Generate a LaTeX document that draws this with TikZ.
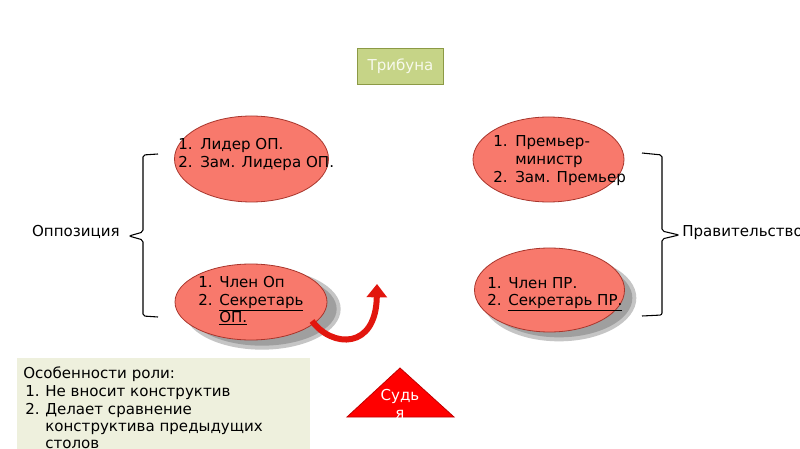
\documentclass[tikz,border=0pt]{standalone}
\usepackage{fontspec}
\setmainfont{DejaVu Sans}
\usetikzlibrary{shapes.geometric,arrows.meta}
\definecolor{ellfill}{HTML}{F8796C}
\definecolor{ellline}{HTML}{A8352C}
\definecolor{tribfill}{HTML}{C6D487}
\definecolor{tribline}{HTML}{8C9A45}
\definecolor{tribtext}{HTML}{F7F9EC}
\definecolor{notefill}{HTML}{EEF0DD}
\definecolor{judgered}{HTML}{FF0000}
\definecolor{judgeline}{HTML}{C00000}
\definecolor{arrowred}{HTML}{E2160E}
\begin{document}
\begin{tikzpicture}[x=0.75pt,y=-0.75pt,
  every node/.style={font=\fontsize{11.3pt}{13.6pt}\selectfont, inner sep=0pt},
  oval/.style={ellipse, draw=ellline, fill=ellfill, line width=0.6pt},
  shadowblob/.style={ellipse, fill=black!65, opacity=0.35},
  lbl/.style={anchor=base west, text=black},
  bracketline/.style={draw=black, line width=0.8pt, rounded corners=1.5pt}]
\useasboundingbox[fill=white] (0,0) rectangle (800,449);

% Tribune
\node[draw=tribline, fill=tribfill, line width=0.8pt, minimum width=65pt, minimum height=27.5pt, text=tribtext] (trib) at (400.5,66.5) {Трибуна};

% shadows
\node[shadowblob, minimum width=118pt, minimum height=61pt] (s3a) at (262,309) {};
\node[shadowblob, minimum width=112pt, minimum height=55pt] (s3b) at (262,309) {};
\node[shadowblob, minimum width=116pt, minimum height=65pt] (s4a) at (559,298) {};
\node[shadowblob, minimum width=110pt, minimum height=59pt] (s4b) at (559,298) {};

% ellipses
\node[oval, minimum width=115.5pt, minimum height=64.5pt] (e1) at (251.5,159) {};
\node[oval, minimum width=113.25pt, minimum height=63.75pt] (e2) at (548.5,159.5) {};
\node[oval, minimum width=114pt, minimum height=57pt] (e3) at (251,302) {};
\node[oval, minimum width=112.5pt, minimum height=63pt] (e4) at (549.5,290) {};

% ellipse 1 text
\node[lbl] (e1n1) at (178,150) {1.};
\node[lbl] (e1t1) at (200,150) {Лидер ОП.};
\node[lbl] (e1n2) at (178,168) {2.};
\node[lbl] (e1t2) at (200,168) {Зам. Лидера ОП.};

% ellipse 2 text
\node[lbl] (e2n1) at (493,147) {1.};
\node[lbl] (e2t1) at (515,147) {Премьер-};
\node[lbl] (e2t1b) at (515,165) {министр};
\node[lbl] (e2n2) at (493,183) {2.};
\node[lbl] (e2t2) at (515,183) {Зам. Премьер};

% ellipse 3 text
\node[lbl] (e3n1) at (198,287) {1.};
\node[lbl] (e3t1) at (219,287) {Член Оп};
\node[lbl] (e3n2) at (198,305) {2.};
\node[lbl] (e3t2) at (219,305) {\underline{Секретарь}};
\node[lbl] (e3t2b) at (219,322) {\underline{ОП.}};

% ellipse 4 text
\node[lbl] (e4n1) at (487,288) {1.};
\node[lbl] (e4t1) at (508,288) {Член ПР.};
\node[lbl] (e4n2) at (487,305) {2.};
\node[lbl] (e4t2) at (508,305) {\underline{Секретарь ПР.}};

% side labels
\node[anchor=east] (opp) at (120,232) {Оппозиция};
\node[anchor=west] (gov) at (682,233) {Правительство};

% brackets
\draw[bracketline] (158,154) -- (143,155) -- (143,232) -- (129,236) -- (143,240) -- (143,316) -- (158,317);
\draw[bracketline] (642,153) -- (662,155) -- (662,231) -- (679,235) -- (662,239) -- (662,315) -- (642,316);

% curved arrow
\coordinate (arrs) at (312,321);
\coordinate (arre) at (377,284);
\draw[arrowred, line width=4.5pt, -{Triangle[width=15pt,length=10pt]}] (arrs) .. controls (332,348) and (376,350) .. (arre);

% note box
\node[fill=notefill, anchor=north west, minimum width=219.75pt, minimum height=75pt] (note) at (17,358) {};
\node[lbl] (nt0) at (23,378) {Особенности роли:};
\node[lbl] (nn1) at (25,396) {1.};
\node[lbl] (nt1) at (45,396) {Не вносит конструктив};
\node[lbl] (nn2) at (25,414) {2.};
\node[lbl] (nt2) at (45,414) {Делает сравнение};
\node[lbl] (nt3) at (45,431.5) {конструктива предыдущих};
\node[lbl] (nt4) at (45,448) {столов};

% judge triangle
\draw[fill=judgered, draw=judgeline, line width=0.6pt] (347,417) -- (400,368) -- (454,417) -- cycle;
\begin{scope}
\clip (347,417) -- (400,368) -- (454,417) -- cycle;
\node[text=white, anchor=base] (jt1) at (400,400) {Судь};
\node[text=white, anchor=base] (jt2) at (400,418) {я};
\end{scope}
\end{tikzpicture}
\end{document}
